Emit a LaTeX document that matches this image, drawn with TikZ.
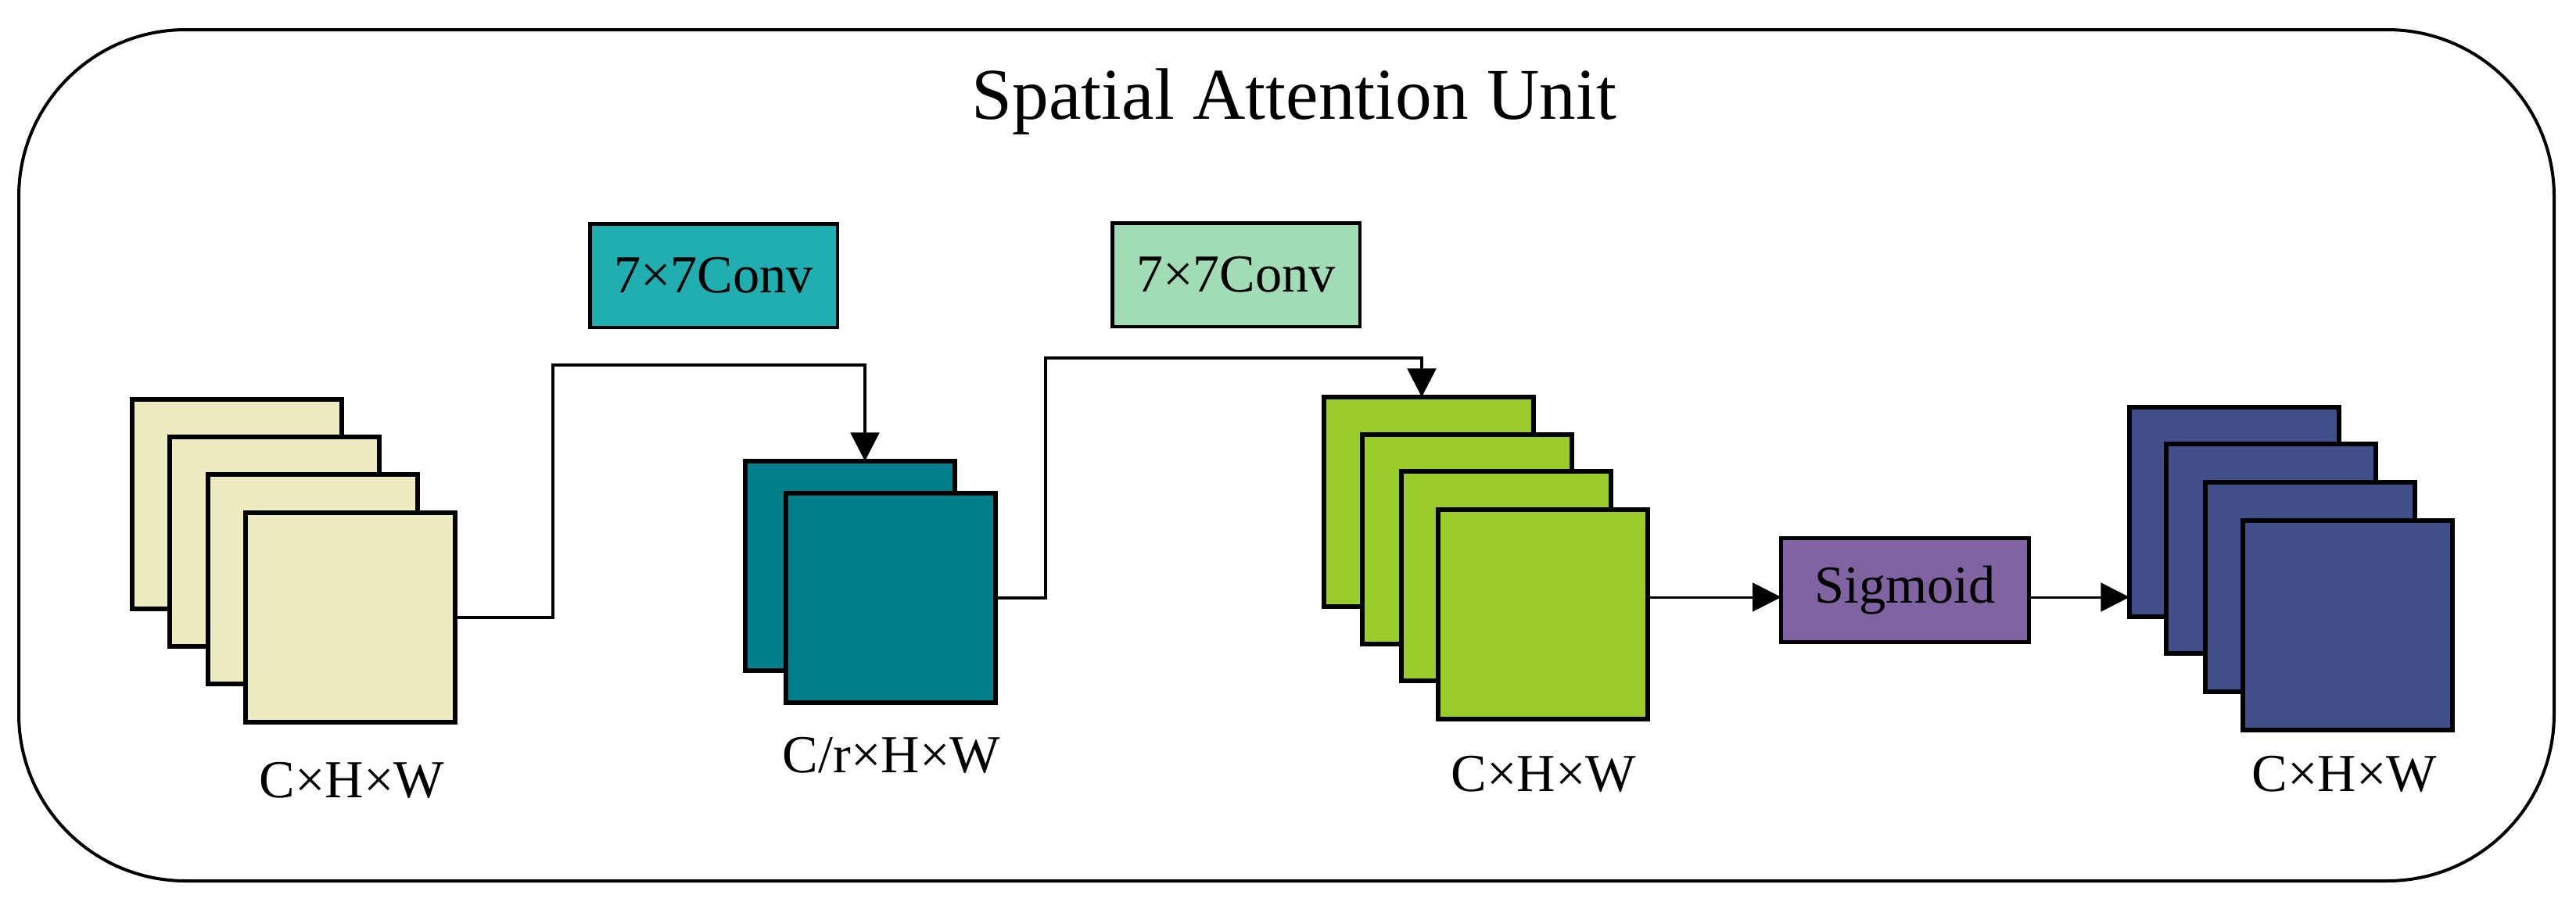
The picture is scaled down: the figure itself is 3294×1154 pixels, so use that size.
\documentclass[tikz,border=0pt]{standalone}
\usepackage{fontspec}
\setmainfont{Liberation Serif}
\usetikzlibrary{arrows.meta}
\definecolor{cream}{HTML}{EFEBC1}
\definecolor{tealbox}{HTML}{20AEB0}
\definecolor{tealsheet}{HTML}{007F8B}
\definecolor{mintbox}{HTML}{A2DCB6}
\definecolor{limesheet}{HTML}{99CC2B}
\definecolor{purplebox}{HTML}{8064A2}
\definecolor{bluesheet}{HTML}{404F8A}
\begin{document}
\begin{tikzpicture}[x=0.3pt,y=-0.3pt,
  sheet/.style={draw=black,line width=1.6pt,minimum width=80.4pt,minimum height=80.4pt,inner sep=0pt,outer sep=0pt},
  opbox/.style={draw=black,line width=1.4pt,minimum width=95pt,minimum height=39.8pt,inner sep=0pt,outer sep=0pt,font=\fontsize{20.5}{24}\selectfont},
  lbl/.style={anchor=base,inner sep=0pt,font=\fontsize{20.5}{24}\selectfont},
  arr/.style={line width=1.1pt,-{Triangle[width=11pt,length=11pt]}},
  harr/.style={line width=0.9pt,-{Triangle[width=11pt,length=11pt]}},
]
\useasboundingbox (0,0) rectangle (3294,1154);
% outer frame
\node[draw=black,line width=1.2pt,rounded corners=64pt,minimum width=972.6pt,minimum height=326.7pt,inner sep=0pt] (frame) at (1645,582.5) {};
\node[lbl,font=\fontsize{28}{32}\selectfont] (title) at (1655,152) {Spatial Attention Unit};

% operation boxes
\node[opbox,fill=tealbox] (conv1) at (912.5,352.5) {7×7Conv};
\node[opbox,fill=mintbox] (conv2) at (1580.5,351.5) {7×7Conv};
\node[opbox,fill=purplebox] (sig) at (2436,755) {Sigmoid};

% cream stack
\node[sheet,fill=cream] (c1) at (303,645) {};
\node[sheet,fill=cream] (c2) at (351,693) {};
\node[sheet,fill=cream] (c3) at (400,741) {};
\node[sheet,fill=cream] (c4) at (448,790) {};
\node[lbl] (lc) at (450,1020) {C×H×W};

% teal stack
\node[sheet,fill=tealsheet] (t1) at (1087,724) {};
\node[sheet,fill=tealsheet] (t2) at (1139,765) {};
\node[lbl] (lt) at (1140,988) {C/r×H×W};

% green stack
\node[sheet,fill=limesheet] (g1) at (1827,642) {};
\node[sheet,fill=limesheet] (g2) at (1876,690) {};
\node[sheet,fill=limesheet] (g3) at (1926,737) {};
\node[sheet,fill=limesheet] (g4) at (1973,786) {};
\node[lbl] (lg) at (1974,1012) {C×H×W};

% blue stack
\node[sheet,fill=bluesheet] (b1) at (2857,655) {};
\node[sheet,fill=bluesheet] (b2) at (2904,702) {};
\node[sheet,fill=bluesheet] (b3) at (2954,751) {};
\node[sheet,fill=bluesheet] (b4) at (3002,800) {};
\node[lbl] (lb) at (2998,1012) {C×H×W};

% connectors
\coordinate (k1) at (707,467);
\draw[arr] (c4.east) -| (k1) -| ([xshift=5.7pt]t1.north);
\coordinate (k2) at (1337,458);
\draw[arr] (t2.east) -| (k2) -| ([xshift=-2.7pt]g1.north);
\coordinate (sin) at ([yshift=-2.7pt]sig.west);
\coordinate (sout) at ([yshift=-2.7pt]sig.east);
\draw[harr] (g4.east |- sin) -- (sin);
\draw[harr] (sout) -- (b1.west |- sout);
\end{tikzpicture}
\end{document}
